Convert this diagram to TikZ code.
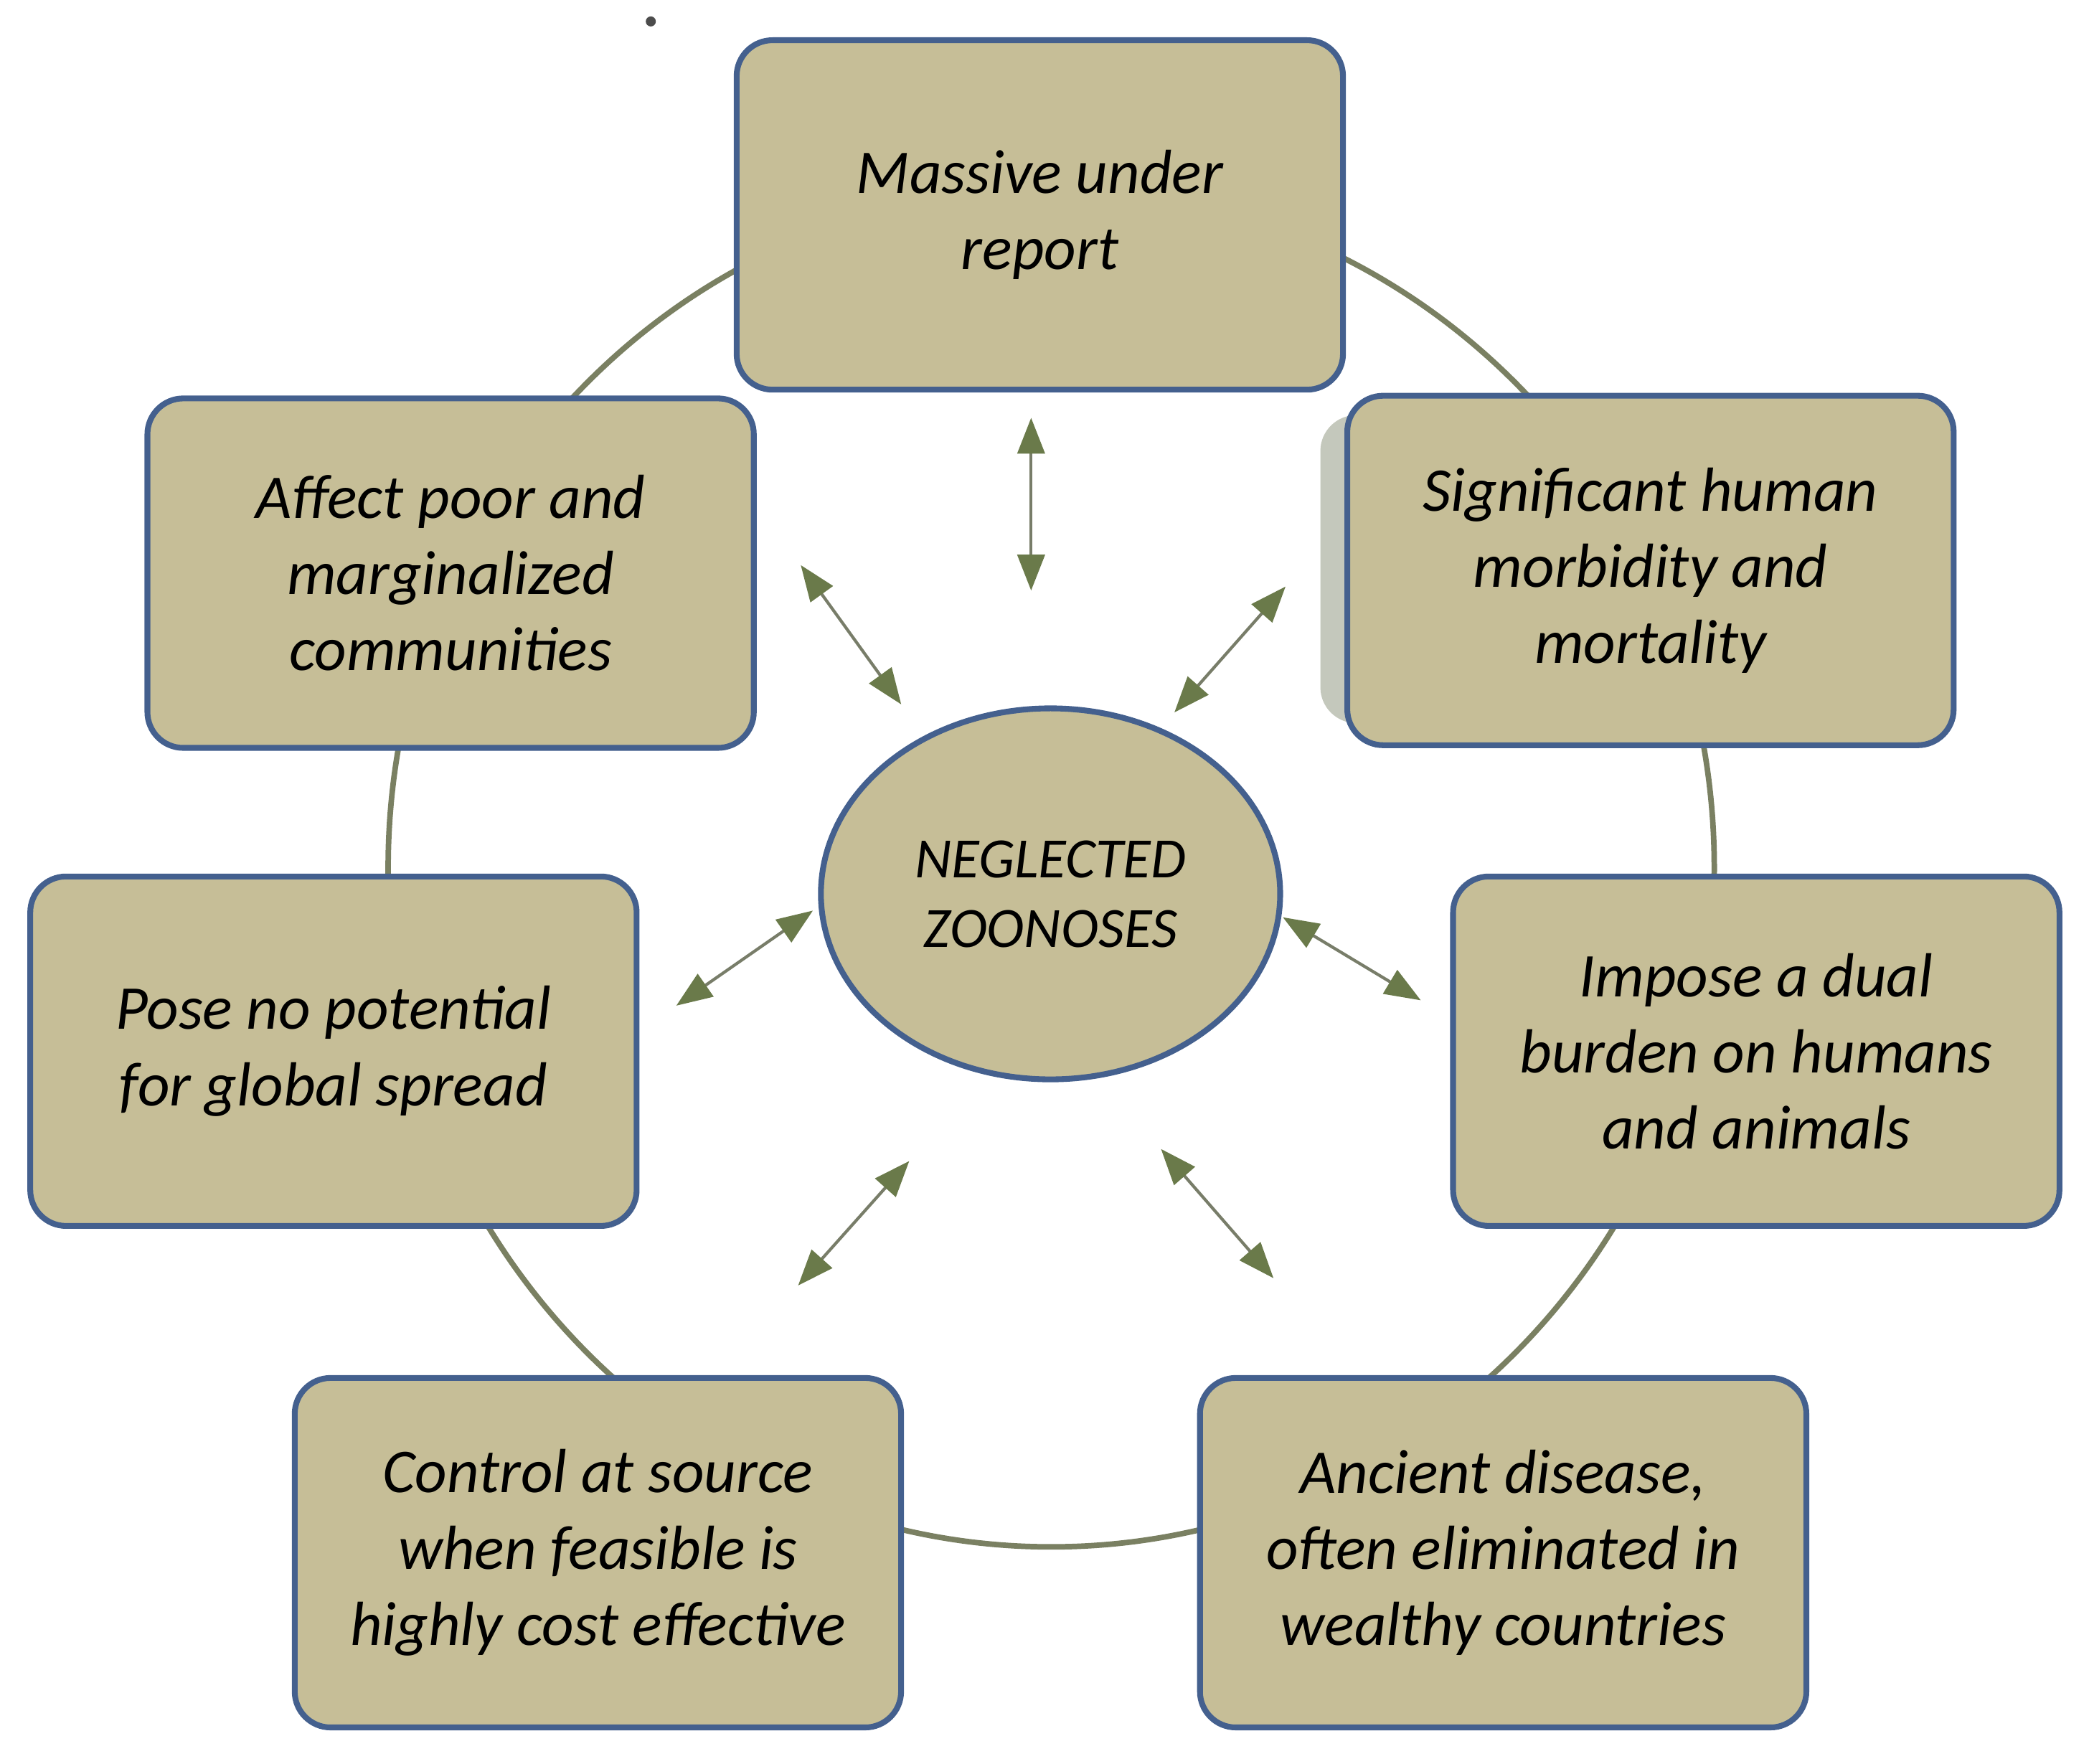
\documentclass[tikz,border=0pt]{standalone}
\usepackage{fontspec}
\setmainfont{Carlito}
\usetikzlibrary{arrows.meta,shapes.geometric}

\definecolor{tanfill}{RGB}{198,190,151}
\definecolor{boxblue}{RGB}{68,96,142}
\definecolor{ringgray}{RGB}{122,128,98}
\definecolor{headgreen}{RGB}{106,122,74}
\definecolor{shaftgray}{RGB}{120,125,105}
\definecolor{sidegray}{RGB}{196,200,188}

\tikzset{
    card/.style={draw=boxblue, line width=2.3pt, fill=tanfill, rounded corners=5mm,
        minimum width=8.45cm, minimum height=4.87cm, align=center,
        font=\itshape\fontsize{24.7}{30.2}\selectfont},
    hub/.style={ellipse, draw=boxblue, line width=2.3pt, fill=tanfill,
        minimum width=6.4cm, minimum height=5.17cm, align=center, inner sep=0pt,
        font=\itshape\fontsize{22.6}{27.6}\selectfont},
    ring/.style={draw=ringgray, line width=2.2pt},
    twoway/.style={draw=shaftgray, line width=1.2pt, <->},
    >={Triangle[length=5mm,width=3.8mm,color=headgreen]}
}

\begin{document}
\begin{tikzpicture}[x=0.018667cm, y=-0.018667cm]
        \useasboundingbox (0,0) rectangle (1560,1316.8);

        % ring behind the cards
        \draw[ring] (785,648) ellipse [x radius=9.24cm, y radius=9.464cm];

        % side face of the third card
        \fill[sidegray, rounded corners=5mm] (986,310) rectangle (1040,540);

        \fill[black!70] (486,16) circle [radius=0.07cm];

        \node[card] (report)  at (776.5,160.5) {Massive under\\report};
        \node[card] (affect)  at (336.5,428)   {Affect poor and\\marginalized\\communities};
        \node[card] (signif)  at (1232.5,426)  {Significant human\\morbidity and\\mortality};
        \node[card] (pose)    at (249,785)     {Pose no potential\\for global spread};
        \node[card] (impose)  at (1311.5,785)  {Impose a dual\\burden on humans\\and animals};
        \node[card] (control) at (446.5,1159.5) {Control at source\\when feasible is\\highly cost effective};
        \node[card] (ancient) at (1122.5,1159.5) {Ancient disease,\\often eliminated in\\wealthy countries};

        \node[hub] (zoo) at (784.5,667.5) {NEGLECTED\\ZOONOSES};

        % double arrows round the hub
        \foreach \nm/\xa/\ya/\xb/\yb in {top/770/312/770/441, ul/598/422/673/526,
                ur/960/438/877/532, le/607/680/505/751, ri/958/685/1061/747,
                ll/679/867/596/960, lr/867/858/951/954.5}{
            \coordinate (\nm-out) at (\xa,\ya);
            \coordinate (\nm-in) at (\xb,\yb);
            \draw[twoway] (\nm-out) -- (\nm-in);
        }
    \end{tikzpicture}
\end{document}
